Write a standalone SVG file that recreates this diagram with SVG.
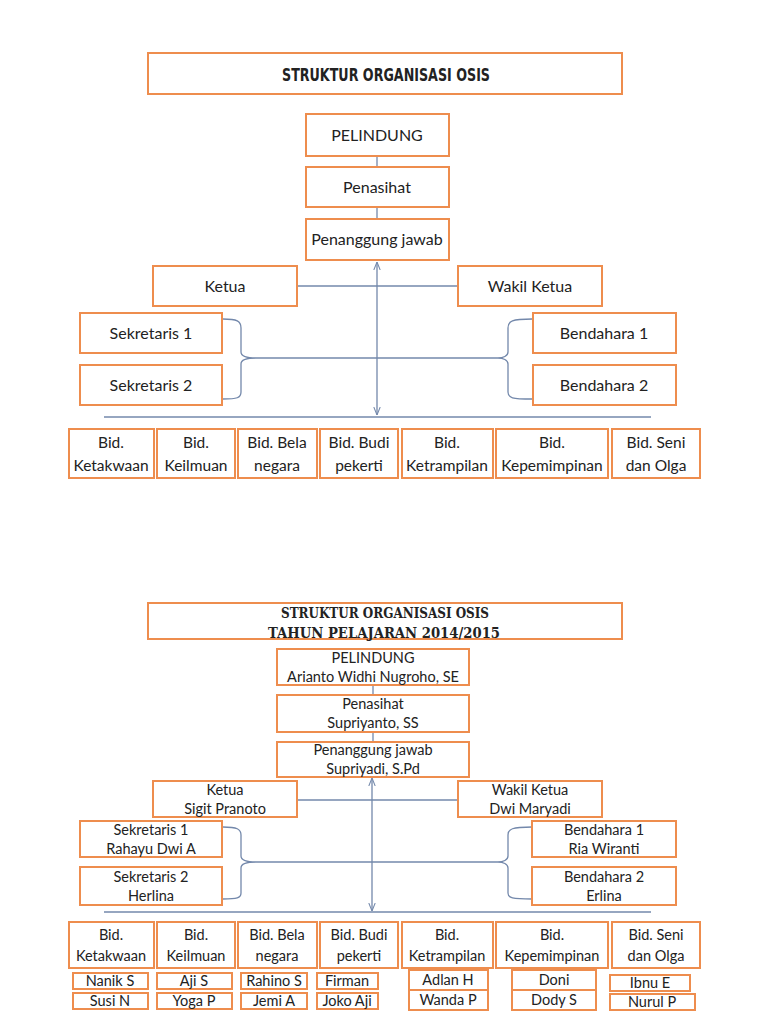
<svg xmlns="http://www.w3.org/2000/svg" width="768" height="1024" viewBox="0 0 768 1024">
<style>
.b{fill:#fff;stroke:#EE8D4E;stroke-width:2}
.c{fill:none;stroke:#7388AB;stroke-width:1.3}
.t{font-family:Lato,"Open Sans",sans-serif;font-size:16px;fill:#222;text-anchor:middle}
.u{font-family:Lato,"Open Sans",sans-serif;font-size:15.5px;fill:#222;text-anchor:middle}
.s{font-family:Lato,"Open Sans",sans-serif;font-size:14.5px;fill:#222;text-anchor:middle}
.h1{font-family:"DejaVu Sans Condensed","DejaVu Sans",sans-serif;font-weight:bold;font-size:18px;fill:#222;text-anchor:middle}
.h2{font-family:"DejaVu Serif",serif;font-weight:bold;font-size:14px;fill:#222;text-anchor:middle}
</style>
<defs>
<marker id="a" viewBox="0 0 10 10" refX="10" refY="5" markerWidth="8" markerHeight="8" orient="auto-start-reverse" markerUnits="userSpaceOnUse">
<path d="M0,1 L10,5 L0,9" fill="none" stroke="#7388AB" stroke-width="1.3"/>
</marker>
</defs>
<rect width="768" height="1024" fill="#fff"/>

<!-- ===== Diagram 1 connectors ===== -->
<g id="connectors1">
<line class="c" x1="377" y1="156" x2="377" y2="167"/>
<line class="c" x1="377" y1="207" x2="377" y2="219"/>
<line class="c" x1="377" y1="262" x2="377" y2="415" marker-start="url(#a)" marker-end="url(#a)"/>
<line class="c" x1="297" y1="286" x2="458" y2="286"/>
<path class="c" d="M223,319 C237,319 241,321 241,328 L241,352 C241,356 246,358 256,358 C246,358 241,360 241,364 L241,392 C241,398 237,399 223,399"/>
<path class="c" d="M532,319 C512,319 508,321 508,328 L508,352 C508,356 503,358 498,358 C503,358 508,360 508,364 L508,392 C508,398 512,399 532,399"/>
<line class="c" x1="256" y1="358" x2="498" y2="358"/>
<line class="c" x1="104" y1="417" x2="651" y2="417"/>
</g>

<g id="title1"><rect class="b" x="148" y="53" width="474" height="41"/><text class="h1" x="386" y="81" textLength="208" lengthAdjust="spacingAndGlyphs">STRUKTUR ORGANISASI OSIS</text></g>
<g id="pelindung1"><rect class="b" x="306" y="114" width="143" height="42"/><text class="t" x="377" y="141">PELINDUNG</text></g>
<g id="penasihat1"><rect class="b" x="306" y="167" width="143" height="40"/><text class="t" x="377" y="193">Penasihat</text></g>
<g id="pj1"><rect class="b" x="306" y="219" width="143" height="41"/><text class="t" x="377" y="245">Penanggung jawab</text></g>
<g id="ketua1"><rect class="b" x="153" y="266" width="144" height="40"/><text class="t" x="225" y="292">Ketua</text></g>
<g id="wakil1"><rect class="b" x="458" y="266" width="144" height="40"/><text class="t" x="530" y="292">Wakil Ketua</text></g>
<g id="sek1a"><rect class="b" x="80" y="313" width="142" height="40"/><text class="t" x="151" y="339">Sekretaris 1</text></g>
<g id="sek2a"><rect class="b" x="80" y="365" width="142" height="40"/><text class="t" x="151" y="391">Sekretaris 2</text></g>
<g id="bend1a"><rect class="b" x="533" y="313" width="143" height="40"/><text class="t" x="604" y="339">Bendahara 1</text></g>
<g id="bend2a"><rect class="b" x="533" y="365" width="143" height="40"/><text class="t" x="604" y="391">Bendahara 2</text></g>

<g id="bid1a"><rect class="b" x="69" y="429" width="85" height="49"/><text class="u" x="111" y="448">Bid.</text><text class="u" x="111" y="471">Ketakwaan</text></g>
<g id="bid2a"><rect class="b" x="157" y="429" width="78" height="49"/><text class="u" x="196" y="448">Bid.</text><text class="u" x="196" y="471">Keilmuan</text></g>
<g id="bid3a"><rect class="b" x="238" y="429" width="79" height="49"/><text class="u" x="277" y="448">Bid. Bela</text><text class="u" x="277" y="471">negara</text></g>
<g id="bid4a"><rect class="b" x="320" y="429" width="78" height="49"/><text class="u" x="359" y="448">Bid. Budi</text><text class="u" x="359" y="471">pekerti</text></g>
<g id="bid5a"><rect class="b" x="402" y="429" width="91" height="49"/><text class="u" x="447" y="448">Bid.</text><text class="u" x="447" y="471">Ketrampilan</text></g>
<g id="bid6a"><rect class="b" x="496" y="429" width="112" height="49"/><text class="u" x="552" y="448">Bid.</text><text class="u" x="552" y="471">Kepemimpinan</text></g>
<g id="bid7a"><rect class="b" x="612" y="429" width="88" height="49"/><text class="u" x="656" y="448">Bid. Seni</text><text class="u" x="656" y="471">dan Olga</text></g>

<!-- ===== Diagram 2 connectors ===== -->
<g id="connectors2">
<line class="c" x1="373" y1="685" x2="373" y2="695"/>
<line class="c" x1="373" y1="732" x2="373" y2="742"/>
<line class="c" x1="372" y1="778" x2="372" y2="911" marker-start="url(#a)" marker-end="url(#a)"/>
<line class="c" x1="297" y1="800" x2="458" y2="800"/>
<path class="c" d="M223,827 C237,827 241,829 241,835 L241,856 C241,860 246,862 256,862 C246,862 241,864 241,868 L241,893 C241,898 237,899 223,899"/>
<path class="c" d="M532,827 C512,827 508,829 508,835 L508,856 C508,860 503,862 498,862 C503,862 508,864 508,868 L508,893 C508,898 512,899 532,899"/>
<line class="c" x1="256" y1="862" x2="498" y2="862"/>
<line class="c" x1="104" y1="912" x2="651" y2="912"/>
</g>

<g id="title2"><rect class="b" x="148" y="603" width="474" height="36"/><text class="h2" x="385" y="618" textLength="208" lengthAdjust="spacingAndGlyphs">STRUKTUR ORGANISASI OSIS</text><text class="h2" x="384" y="638" textLength="232" lengthAdjust="spacingAndGlyphs">TAHUN PELAJARAN 2014/2015</text></g>
<g id="pelindung2"><rect class="b" x="277" y="649" width="192" height="36"/><text class="s" x="373" y="663">PELINDUNG</text><text class="s" x="373" y="682">Arianto Widhi Nugroho, SE</text></g>
<g id="penasihat2"><rect class="b" x="277" y="695" width="192" height="37"/><text class="s" x="373" y="709">Penasihat</text><text class="s" x="373" y="728">Supriyanto, SS</text></g>
<g id="pj2"><rect class="b" x="277" y="742" width="192" height="35"/><text class="s" x="373" y="755">Penanggung jawab</text><text class="s" x="373" y="774">Supriyadi, S.Pd</text></g>
<g id="ketua2"><rect class="b" x="153" y="781" width="144" height="36"/><text class="s" x="225" y="795">Ketua</text><text class="s" x="225" y="814">Sigit Pranoto</text></g>
<g id="wakil2"><rect class="b" x="458" y="781" width="144" height="36"/><text class="s" x="530" y="795">Wakil Ketua</text><text class="s" x="530" y="814">Dwi Maryadi</text></g>
<g id="sek1b"><rect class="b" x="80" y="821" width="142" height="36"/><text class="s" x="151" y="835">Sekretaris 1</text><text class="s" x="151" y="854">Rahayu Dwi A</text></g>
<g id="sek2b"><rect class="b" x="80" y="867" width="142" height="38"/><text class="s" x="151" y="882">Sekretaris 2</text><text class="s" x="151" y="901">Herlina</text></g>
<g id="bend1b"><rect class="b" x="532" y="821" width="144" height="36"/><text class="s" x="604" y="835">Bendahara 1</text><text class="s" x="604" y="854">Ria Wiranti</text></g>
<g id="bend2b"><rect class="b" x="532" y="867" width="144" height="38"/><text class="s" x="604" y="882">Bendahara 2</text><text class="s" x="604" y="901">Erlina</text></g>

<g id="bid1b"><rect class="b" x="69" y="922" width="85" height="46"/><text class="s" x="111" y="940">Bid.</text><text class="s" x="111" y="961">Ketakwaan</text></g>
<g id="bid2b"><rect class="b" x="157" y="922" width="78" height="46"/><text class="s" x="196" y="940">Bid.</text><text class="s" x="196" y="961">Keilmuan</text></g>
<g id="bid3b"><rect class="b" x="238" y="922" width="79" height="46"/><text class="s" x="277" y="940">Bid. Bela</text><text class="s" x="277" y="961">negara</text></g>
<g id="bid4b"><rect class="b" x="320" y="922" width="78" height="46"/><text class="s" x="359" y="940">Bid. Budi</text><text class="s" x="359" y="961">pekerti</text></g>
<g id="bid5b"><rect class="b" x="402" y="922" width="91" height="46"/><text class="s" x="447" y="940">Bid.</text><text class="s" x="447" y="961">Ketrampilan</text></g>
<g id="bid6b"><rect class="b" x="496" y="922" width="112" height="46"/><text class="s" x="552" y="940">Bid.</text><text class="s" x="552" y="961">Kepemimpinan</text></g>
<g id="bid7b"><rect class="b" x="612" y="922" width="88" height="46"/><text class="s" x="656" y="940">Bid. Seni</text><text class="s" x="656" y="961">dan Olga</text></g>

<g id="n1"><rect class="b" x="73" y="973" width="75" height="16"/><text class="s" x="110" y="986">Nanik S</text></g>
<g id="n2"><rect class="b" x="73" y="993" width="75" height="16"/><text class="s" x="110" y="1006">Susi N</text></g>
<g id="n3"><rect class="b" x="157" y="973" width="75" height="16"/><text class="s" x="194" y="986">Aji S</text></g>
<g id="n4"><rect class="b" x="157" y="993" width="75" height="16"/><text class="s" x="194" y="1006">Yoga P</text></g>
<g id="n5"><rect class="b" x="241" y="973" width="66" height="16"/><text class="s" x="274" y="986">Rahino S</text></g>
<g id="n6"><rect class="b" x="241" y="993" width="66" height="16"/><text class="s" x="274" y="1006">Jemi A</text></g>
<g id="n7"><rect class="b" x="317" y="973" width="61" height="16"/><text class="s" x="347" y="986">Firman</text></g>
<g id="n8"><rect class="b" x="317" y="993" width="61" height="16"/><text class="s" x="347" y="1006">Joko Aji</text></g>
<g id="n9"><rect class="b" x="409" y="970" width="79" height="20"/><text class="s" x="448" y="985">Adlan H</text></g>
<g id="n10"><rect class="b" x="409" y="990" width="79" height="20"/><text class="s" x="448" y="1005">Wanda P</text></g>
<g id="n11"><rect class="b" x="512" y="970" width="84" height="20"/><text class="s" x="554" y="985">Doni</text></g>
<g id="n12"><rect class="b" x="512" y="990" width="84" height="20"/><text class="s" x="554" y="1005">Dody S</text></g>
<g id="n13"><rect class="b" x="610" y="975" width="80" height="16"/><text class="s" x="650" y="988">Ibnu E</text></g>
<g id="n14"><rect class="b" x="610" y="994" width="85" height="16"/><text class="s" x="652" y="1007">Nurul P</text></g>
</svg>
